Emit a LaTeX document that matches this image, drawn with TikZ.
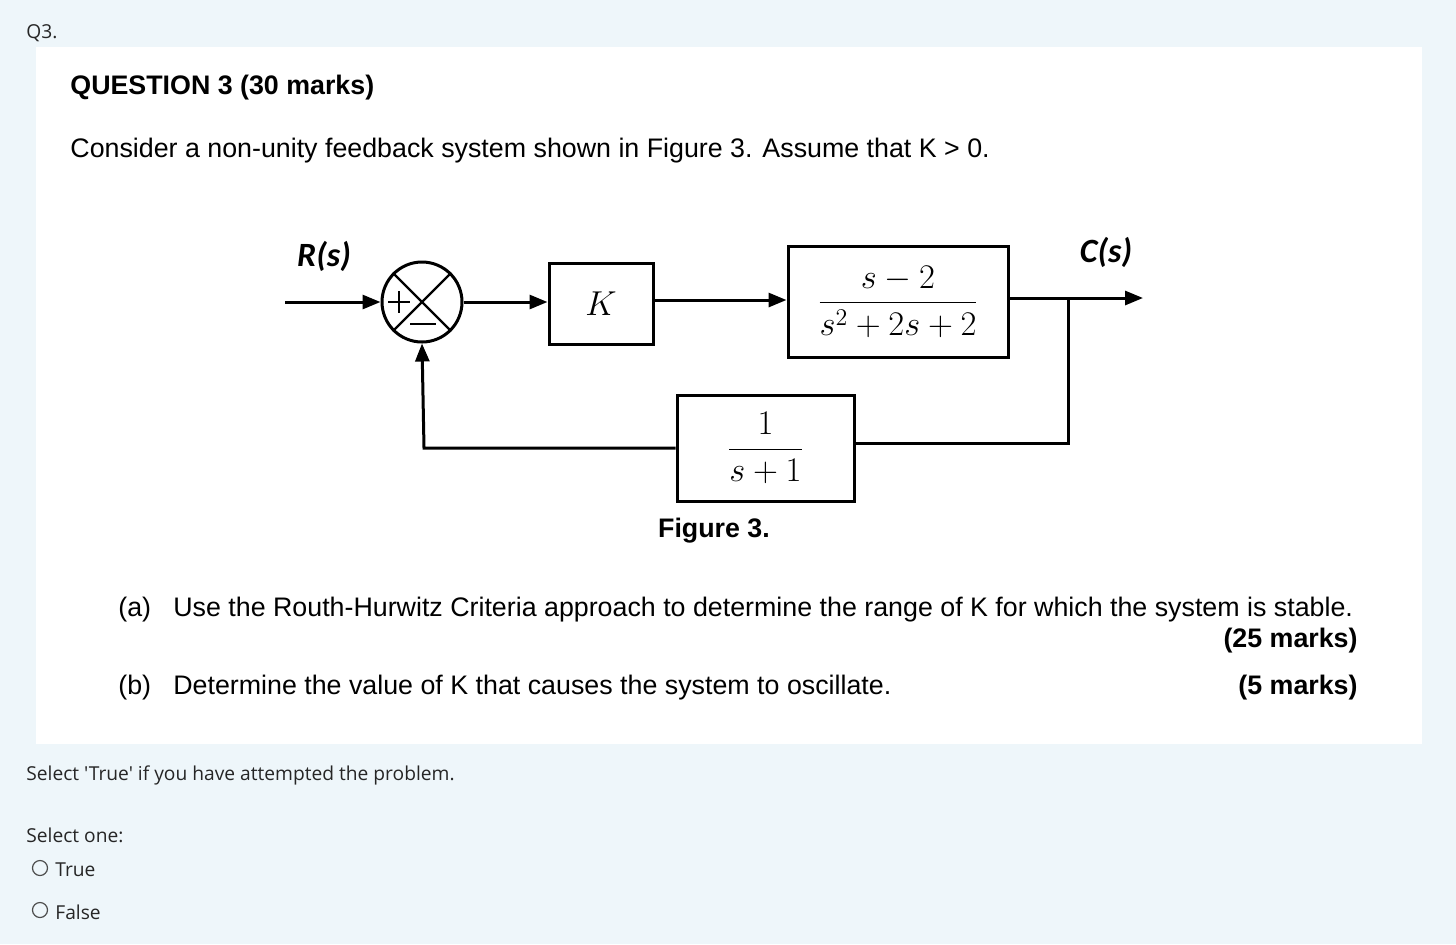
\documentclass[tikz,border=0pt]{standalone}
\usepackage{fontspec}
\usepackage{amsmath}
\setmainfont{Liberation Sans}
\newfontfamily\uifont{Open Sans}
\newfontfamily\labfont{Carlito}
\usetikzlibrary{arrows.meta}
\definecolor{bgc}{HTML}{EEF6FA}
\begin{document}
\begin{tikzpicture}[x=0.5pt,y=-0.5pt,
  blk/.style={draw,line width=1.5pt,inner sep=0pt},
  wire/.style={line width=1.5pt,-{Triangle[length=9pt,width=7pt]}},
  pl/.style={line width=1.5pt},
  body/.style={anchor=west,inner sep=0pt,font=\fontsize{13.4}{15}\selectfont},
  ui/.style={anchor=west,inner sep=0pt,font=\uifont\fontsize{9.6}{11}\selectfont,text=black!85}]
\fill[bgc] (0,0) rectangle (1456,944);
\useasboundingbox (0,0) rectangle (1456,944);
\fill[white] (36,47) rectangle (1422,744);
\node[ui] (q3) at (26,33) {Q3.};
\node[body,font=\bfseries\fontsize{13.4}{15}\selectfont] (title) at (70,88) {QUESTION 3 (30 marks)};
\node[body] (intro) at (70,151) {Consider a non-unity feedback system shown in Figure 3. Assume that K > 0.};
% diagram
\node[circle,draw,line width=1.5pt,minimum size=40pt,inner sep=0pt] (sum) at (422,302) {};
\draw[line width=1.2pt] (sum.north west) -- (sum.south east) (sum.north east) -- (sum.south west);
\draw[line width=1.4pt] (388,302) -- (410,302) (399,291) -- (399,313) (410,324) -- (436,324);
\node[blk,minimum width=52pt,minimum height=40.5pt] (K) at (601,303.5) {\fontsize{17}{19}\selectfont$K$};
\node[blk,minimum width=110pt,minimum height=55.5pt] (G) at (898,301.5) {\fontsize{17}{19}\selectfont$\dfrac{s-2}{s^2+2s+2}$};
\node[blk,minimum width=88.5pt,minimum height=53pt] (H) at (765.5,448) {\fontsize{17}{19}\selectfont$\dfrac{1}{s+1}$};
\node[font=\labfont\bfseries\itshape\fontsize{17}{19}\selectfont] (R) at (324,256) {R(s)};
\node[font=\labfont\bfseries\itshape\fontsize{17}{19}\selectfont] (C) at (1106,252) {C(s)};
\coordinate (rin) at (285,302);
\coordinate (cout) at (1143,298);
\coordinate (br) at (1068,298);
\draw[wire] (rin) -- (sum.west);
\draw[wire] (sum.east) -- (K.west |- sum.east);
\draw[wire] (K.east |- 0,300) -- (G.west |- 0,300);
\draw[wire] (G.east |- cout) -- (cout);
\draw[pl] (br) -- (1068,443) -- (H.east |- 0,443);
\draw[wire] (H.west) -- (424,448) -- (sum.south);
\node[font=\bfseries\fontsize{13.4}{15}\selectfont] (fig) at (714,531) {Figure 3.};
\node[body] (a) at (118,610) {(a)\hspace{0.55em} Use the Routh-Hurwitz Criteria approach to determine the range of K for which the system is stable.};
\node[anchor=east,inner sep=0pt,font=\bfseries\fontsize{13.4}{15}\selectfont] (am) at (1358,641) {(25 marks)};
\node[body] (b) at (118,688) {(b)\hspace{0.55em} Determine the value of K that causes the system to oscillate.};
\node[anchor=east,inner sep=0pt,font=\bfseries\fontsize{13.4}{15}\selectfont] (bm) at (1358,688) {(5 marks)};
\node[ui] (sel) at (26,775) {Select 'True' if you have attempted the problem.};
\node[ui] (one) at (26,835) {Select one:};
\node[circle,draw=black!70,line width=0.6pt,minimum size=7.5pt,inner sep=0pt] (r1) at (40,868) {};
\node[ui] (t) at (55,870) {True};
\node[circle,draw=black!70,line width=0.6pt,minimum size=7.5pt,inner sep=0pt] (r2) at (40,910) {};
\node[ui] (f) at (55,912) {False};
\end{tikzpicture}
\end{document}
